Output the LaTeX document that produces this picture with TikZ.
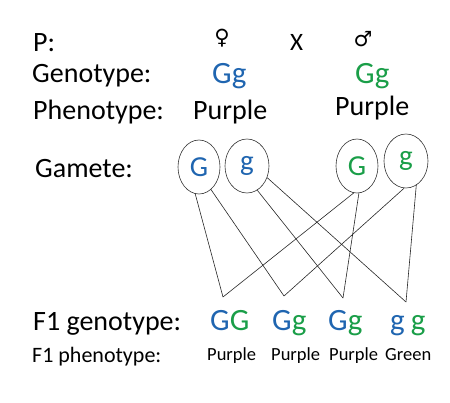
\documentclass[tikz,border=0pt]{standalone}
\usepackage{fontspec}
\setmainfont{Carlito}
\newfontfamily\symfont{DejaVu Sans}
\usetikzlibrary{shapes.geometric}
\definecolor{gblue}{HTML}{1F65B0}
\definecolor{ggreen}{HTML}{1A9E48}
\tikzset{
  lbl/.style={anchor=base west, inner sep=0pt, font=\fontsize{28}{32}\selectfont},
  big/.style={anchor=base west, inner sep=0pt, font=\fontsize{31}{34}\selectfont},
  small/.style={anchor=base west, inner sep=0pt, font=\fontsize{22}{26}\selectfont},
  tiny/.style={anchor=base west, inner sep=0pt, font=\fontsize{18.5}{22}\selectfont},
  gam/.style={draw=black!80, line width=0.6pt, ellipse, minimum width=42pt, minimum height=54pt, inner sep=0pt, font=\fontsize{29}{32}\selectfont},
  link/.style={draw=black!85, line width=0.6pt}
}
\begin{document}
\begin{tikzpicture}[x=1pt,y=-1pt]
\useasboundingbox (0,0) rectangle (450,402);
% header
\node[lbl] (p) at (33,51) {P:};
\node[inner sep=0pt, font=\symfont\fontsize{21}{24}\selectfont] (fem) at (222,38) {♀};
\node[lbl, font=\fontsize{25}{28}\selectfont] (x) at (290,50) {X};
\node[inner sep=0pt, font=\symfont\fontsize{21}{24}\selectfont] (mal) at (363,39) {♂};
\node[lbl] (geno) at (32,82) {Genotype:};
\node[big, text=gblue] (gg1) at (212,83) {Gg};
\node[big, text=ggreen] (gg2) at (355,83) {Gg};
\node[lbl] (pheno) at (33,119) {Phenotype:};
\node[lbl] (pur1) at (193,119) {Purple};
\node[lbl] (pur2) at (335,115) {Purple};
\node[lbl] (gamete) at (35,177) {Gamete:};
% gametes
\node[gam, text=gblue] (eGb) at (199,167) {G};
\node[gam, text=gblue, minimum width=44pt] (egb) at (247,166) {g};
\node[gam, text=ggreen] (eGg) at (357,166) {G};
\node[gam, text=ggreen, minimum width=44pt] (egg) at (406,161) {g};
% convergence points
\coordinate (c1) at (223,297);
\coordinate (c2) at (284,296);
\coordinate (c3) at (343,298);
\coordinate (c4) at (406,302);
\draw[link] (eGb.262) -- (c1);
\draw[link] (eGg.263) -- (c1);
\draw[link] (eGb.298) -- (c2);
\draw[link] (egg.266) -- (c2);
\draw[link] (egb.293) -- (c3);
\draw[link] (eGg.274) -- (c3);
\draw[link] (egb.330) -- (c4);
\draw[link] (egg.293) -- (c4);
% F1
\node[lbl] (f1g) at (33,330) {F1 genotype:};
\node[big] (o1) at (210,330) {\textcolor{gblue}{G}\textcolor{ggreen}{G}};
\node[big] (o2) at (272,330) {\textcolor{gblue}{G}\textcolor{ggreen}{g}};
\node[big] (o3) at (328,330) {\textcolor{gblue}{G}\textcolor{ggreen}{g}};
\node[big] (o4) at (390,330) {\textcolor{gblue}{g}\hspace{6pt}\textcolor{ggreen}{g}};
\node[small] (f1p) at (32,362) {F1 phenotype:};
\node[tiny] (q1) at (207,360) {Purple};
\node[tiny] (q2) at (271,360) {Purple};
\node[tiny] (q3) at (329,360) {Purple};
\node[tiny] (q4) at (385,360) {Green};
\end{tikzpicture}
\end{document}
